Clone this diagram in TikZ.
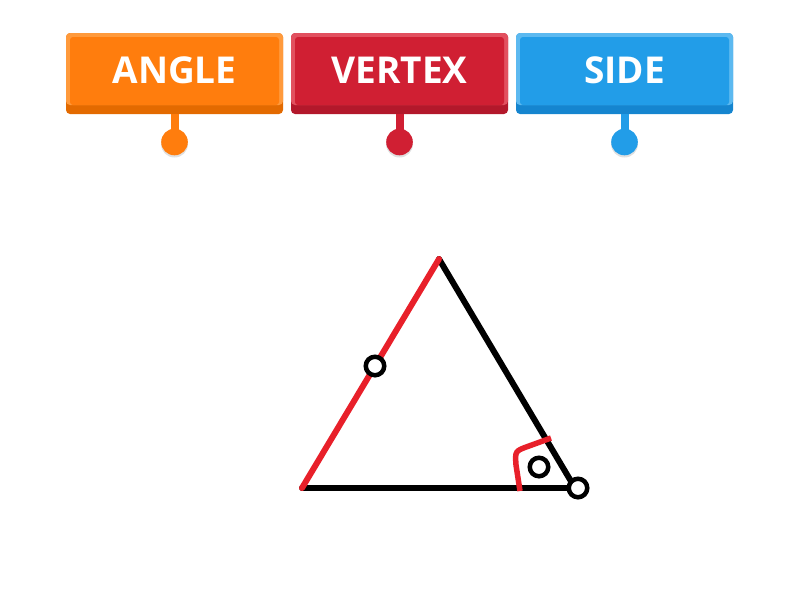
\documentclass[tikz,border=0pt]{standalone}
\usepackage{fontspec}
\setmainfont{Open Sans}
\begin{document}
\begin{tikzpicture}[x=1pt,y=-1pt,
  lbl/.style={font=\bfseries\fontsize{37}{40}\selectfont, text=white, anchor=center},
  tri/.style={line width=6pt, line cap=round, line join=round},
  ring/.style={circle, draw=black, fill=white, line width=4.5pt, inner sep=0pt, minimum size=18.5pt}
]
\useasboundingbox (0,0) rectangle (800,600);
\definecolor{oTop}{HTML}{FF9A3C}\definecolor{oMid}{HTML}{FF7D0D}\definecolor{oBot}{HTML}{E36A00}
\definecolor{rTop}{HTML}{E2505F}\definecolor{rMid}{HTML}{D01F33}\definecolor{rBot}{HTML}{B3182B}
\definecolor{bTop}{HTML}{5CB9F0}\definecolor{bMid}{HTML}{229DE8}\definecolor{bBot}{HTML}{1585CF}
\definecolor{triRed}{HTML}{E8202A}
% label boxes
\foreach \x/\t/\ct/\cm/\cb/\nm in {66/ANGLE/oTop/oMid/oBot/angle, 291/VERTEX/rTop/rMid/rBot/vertex, 516/SIDE/bTop/bMid/bBot/side}{
  \fill[\cb, rounded corners=4pt] (\x,33) rectangle ++(217,81);
  \fill[\ct, rounded corners=4pt] (\x,33) rectangle ++(217,72);
  \fill[\cm, rounded corners=3pt] (\x+4,37) rectangle ++(209,68);
  \node[lbl] (\nm) at (\x+108.5,70) {\t};
  \fill[\cm] (\x+104.5,114) rectangle ++(8,16);
  \fill[black, opacity=0.12] (\x+108.5,144) circle (13.5);
  \fill[\cm] (\x+108.5,142) circle (13.3);
}
% triangle
\coordinate (A) at (302,488);
\coordinate (B) at (575,488);
\coordinate (C) at (439,259);
\draw[tri, black] (A) -- (B);
\draw[tri, black] (C) -- (B);
\draw[tri, triRed] (A) -- (C);
% angle mark
\draw[line width=5.5pt, triRed, line cap=butt] (520,491) -- (516,465) .. controls (515,451) .. (529,446) -- (551,438);
% rings
\node[ring] (r1) at (375,366) {};
\node[ring] (r2) at (539,467) {};
\node[ring] (r3) at (578,488) {};
\end{tikzpicture}
\end{document}
